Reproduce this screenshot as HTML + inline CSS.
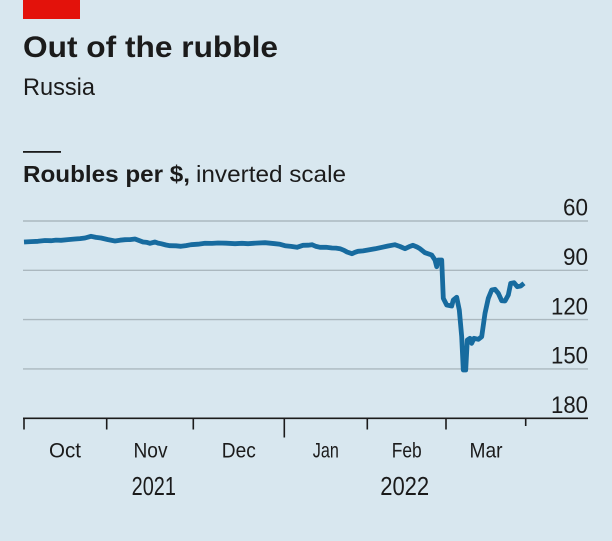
<!DOCTYPE html>
<html><head><meta charset="utf-8"><style>
html,body{margin:0;padding:0;background:#d8e7ef;}
svg{display:block;}
text{font-family:"Liberation Sans",sans-serif;fill:#1b1b1b;}
</style></head><body>
<svg width="612" height="541" viewBox="0 0 612 541" xmlns="http://www.w3.org/2000/svg">
<rect x="0" y="0" width="612" height="541" fill="#d8e7ef"/>
<rect x="23" y="0" width="57" height="19" fill="#e3120b"/>
<text x="23" y="57" font-size="30" font-weight="bold" textLength="255" lengthAdjust="spacingAndGlyphs">Out of the rubble</text>
<text x="23" y="95" font-size="24" textLength="72" lengthAdjust="spacingAndGlyphs">Russia</text>
<rect x="23" y="151" width="38" height="1.8" fill="#1b1b1b"/>
<text x="23" y="182" font-size="23" font-weight="bold" textLength="167" lengthAdjust="spacingAndGlyphs">Roubles per $,</text>
<text x="196" y="182" font-size="23" textLength="150" lengthAdjust="spacingAndGlyphs">inverted scale</text>

<g stroke="#abb8bf" stroke-width="1.4">
<line x1="23" y1="221" x2="588" y2="221"/>
<line x1="23" y1="270.3" x2="588" y2="270.3"/>
<line x1="23" y1="319.6" x2="588" y2="319.6"/>
<line x1="23" y1="368.9" x2="588" y2="368.9"/>
</g>
<g font-size="24" text-anchor="end">
<text x="588" y="215.7" textLength="25" lengthAdjust="spacingAndGlyphs">60</text>
<text x="588" y="265" textLength="25" lengthAdjust="spacingAndGlyphs">90</text>
<text x="588" y="314.3" textLength="37" lengthAdjust="spacingAndGlyphs">120</text>
<text x="588" y="363.6" textLength="37" lengthAdjust="spacingAndGlyphs">150</text>
<text x="588" y="412.9" textLength="37" lengthAdjust="spacingAndGlyphs">180</text>
</g>

<g stroke="#1b1b1b" stroke-width="1.6">
<line x1="23" y1="418.3" x2="588" y2="418.3"/>
<line x1="24" y1="418" x2="24" y2="429.5"/>
<line x1="106.7" y1="418" x2="106.7" y2="429.5"/>
<line x1="193.3" y1="418" x2="193.3" y2="429.5"/>
<line x1="284.3" y1="418" x2="284.3" y2="437.5"/>
<line x1="367.3" y1="418" x2="367.3" y2="429.5"/>
<line x1="446" y1="418" x2="446" y2="429.5"/>
<line x1="525.7" y1="418" x2="525.7" y2="426"/>
</g>
<g font-size="21.5" text-anchor="middle">
<text x="65" y="457.3" textLength="32" lengthAdjust="spacingAndGlyphs">Oct</text>
<text x="150.5" y="457.3" textLength="34" lengthAdjust="spacingAndGlyphs">Nov</text>
<text x="238.8" y="457.3" textLength="34" lengthAdjust="spacingAndGlyphs">Dec</text>
<text x="325.8" y="457.3" textLength="26" lengthAdjust="spacingAndGlyphs">Jan</text>
<text x="406.7" y="457.3" textLength="30" lengthAdjust="spacingAndGlyphs">Feb</text>
<text x="486" y="457.3" textLength="33" lengthAdjust="spacingAndGlyphs">Mar</text>
</g>
<g font-size="25.5" text-anchor="middle">
<text x="153.8" y="495" textLength="44.3" lengthAdjust="spacingAndGlyphs">2021</text>
<text x="404.7" y="495" textLength="49" lengthAdjust="spacingAndGlyphs">2022</text>
</g>

<polyline fill="none" stroke="#176b9f" stroke-width="4.8" stroke-linejoin="round" stroke-linecap="butt"
points="24,242 31,241.6 38,241.3 45,240.5 51,240.7 56,240.1 61,240.3 68,239.6 75,239 80,238.6 85,238 91,236.3 96,237.4 101,238 108,239.6 115,241 120,240.2 125,239.7 130,239.6 135,239 139,240.5 143,242 147,242.4 150,243.3 155,242 158,243.1 161,243.7 166,245 170,245.7 176,245.8 181,246.3 186,245.6 191,244.7 198,244.2 205,243.3 212,243.4 218,243 226,243.2 235,243.7 242,243.3 248,243.7 256,243.1 265,242.7 270,243.2 275,243.7 280,244.3 285,245.7 291,246.4 297,247.3 303,245.3 308,245.2 312,244.7 316,246.4 320,247.3 326,247.3 332,248 336,248.1 340,248.7 344,250.3 347,252 352,253.7 355,252.3 358,251.3 363,250.9 368,250 375,248.8 382,247.3 388,246 395,244.7 400,246.5 405,248.7 409,246.8 413,245.3 417,247 420,248.7 425,252.7 431.7,255 435,260 436.7,266.7 438.3,260 441.7,260 443.3,298.3 446.7,305 451.7,306 453.3,300 456.7,297.3 459.3,310 461.7,336.7 463.3,370 465.7,370 467.3,340 470,338.3 471.7,343.3 474,338.3 478.3,339.3 481.7,336.7 485,313.3 488.3,298.3 491.7,290 495,289.3 498.3,293.3 501.7,300.7 505,301 508.3,295 510.7,283.3 514,282.7 517.3,286.7 520.7,286 524,283.3"/>
</svg>
</body></html>
